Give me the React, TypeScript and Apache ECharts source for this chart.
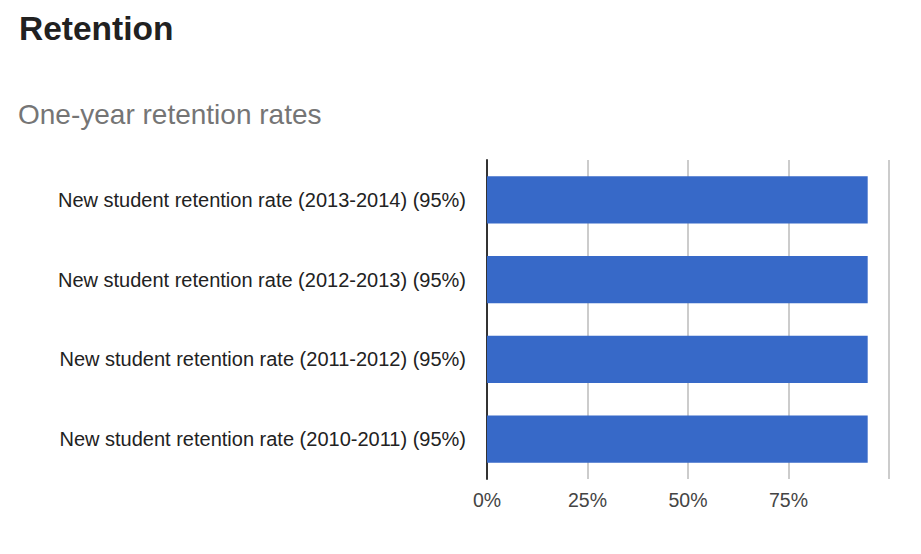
import React, { useEffect, useRef } from "react";
import * as echarts from "echarts";

const categories = [
  "New student retention rate (2013-2014) (95%)",
  "New student retention rate (2012-2013) (95%)",
  "New student retention rate (2011-2012) (95%)",
  "New student retention rate (2010-2011) (95%)",
];
const retentionValues = [94.7, 94.7, 94.7, 94.7];
const xTicks = [0, 25, 50, 75, 100];

export default function App() {
  const ref = useRef<HTMLDivElement>(null);
  useEffect(() => {
    if (!ref.current) return;
    const chart = echarts.init(ref.current, null, { renderer: "svg" });
    const font = "'Liberation Sans', Arial, sans-serif";
    chart.setOption({
      animation: false,
      textStyle: { fontFamily: font },
      title: [
        {
          text: "Retention",
          left: 11,
          top: 3,
          padding: 0,
          textStyle: { fontFamily: font, fontSize: 33.5, fontWeight: "bold", color: "#212121" },
        },
        {
          text: "One-year retention rates",
          left: 10,
          top: 92,
          padding: 0,
          textStyle: { fontFamily: font, fontSize: 28, fontWeight: "normal", color: "#757575" },
        },
      ],
      grid: { left: 479, right: 24, top: 152, bottom: 67, containLabel: false },
      xAxis: {
        type: "value",
        min: xTicks[0],
        max: xTicks[xTicks.length - 1],
        interval: 25,
        axisLine: { show: false },
        axisTick: { show: false },
        splitLine: { show: true, lineStyle: { color: "#cccccc", width: 2 } },
        axisLabel: {
          fontFamily: font,
          fontSize: 19.5,
          color: "#444444",
          margin: 11,
          showMaxLabel: false,
          formatter: (v: number) => (v === 100 ? "" : v + "%"),
        },
      },
      yAxis: {
        type: "category",
        data: categories,
        inverse: true,
        axisLine: { show: true, lineStyle: { color: "#333333", width: 2 } },
        axisTick: { show: false },
        axisLabel: { fontFamily: font, fontSize: 20, color: "#222222", margin: 21 },
      },
      series: [
        {
          type: "bar",
          data: retentionValues,
          barCategoryGap: "41%",
          itemStyle: { color: "#3769C8" },
        },
      ],
    });
    return () => chart.dispose();
  }, []);
  return <div ref={ref} style={{ width: 905, height: 538 }} />;
}
